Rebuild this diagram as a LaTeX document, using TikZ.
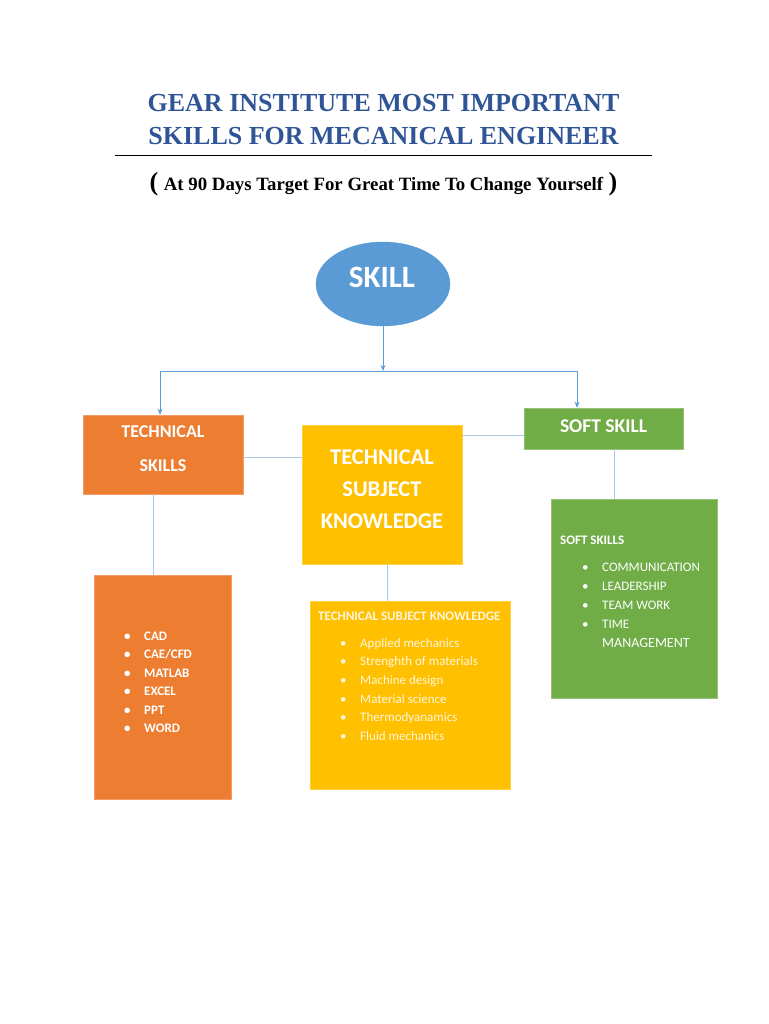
\documentclass[tikz,border=0pt]{standalone}
\usepackage{fontspec}
\setmainfont{Liberation Serif}
\newfontfamily\calib{Carlito}
\usetikzlibrary{shapes.geometric,arrows.meta}
\definecolor{titleblue}{HTML}{2F5597}
\definecolor{skblue}{HTML}{5B9BD5}
\definecolor{lightcon}{HTML}{A9CBEA}
\definecolor{orng}{HTML}{ED7D31}
\definecolor{yllw}{HTML}{FFC000}
\definecolor{grn}{HTML}{70AD47}
\definecolor{cream}{HTML}{FFF6DC}
\tikzset{
  box/.style={rectangle,inner sep=0pt,draw=#1!75!white,line width=0.6pt,fill=#1},
  arr/.style={draw=skblue,line width=0.9pt,-{Stealth[length=6pt,width=5pt]}},
  ln/.style={draw=skblue,line width=0.9pt},
  lcon/.style={draw=lightcon,line width=0.9pt},
  boxtxt/.style={text=white,font=\calib\bfseries,inner sep=0pt,align=center},
  item/.style={text=white,font=\calib\fontsize{13}{15}\selectfont,anchor=west,inner sep=0pt},
  bitem/.style={item,font=\calib\bfseries\fontsize{13}{15}\selectfont},
}
\newcommand{\bul}[1]{\makebox[20pt][l]{\textbullet}#1}
\begin{document}
\begin{tikzpicture}[x=1pt,y=-1pt]
\useasboundingbox (0,0) rectangle (768,1024);
% title
\node[text=titleblue,font=\bfseries\fontsize{26}{30}\selectfont,inner sep=0pt] (t1) at (383.5,103) {GEAR INSTITUTE MOST IMPORTANT};
\node[text=titleblue,font=\bfseries\fontsize{26}{30}\selectfont,inner sep=0pt] (t2) at (383.5,136) {SKILLS FOR MECANICAL ENGINEER};
\coordinate (rl) at (115,155.5);
\coordinate (rr) at (652,155.5);
\draw[line width=0.8pt] (rl) -- (rr);
\node[font=\bfseries\fontsize{18.8}{22}\selectfont,inner sep=0pt] (sub) at (383.5,184) {{\fontsize{26}{28}\selectfont(}\hspace{0.3em}At 90 Days Target For Great Time To Change Yourself\hspace{0.3em}{\fontsize{26}{28}\selectfont)}};
% skill ellipse
\node[ellipse,fill=skblue,draw=skblue,minimum width=134pt,minimum height=84pt,inner sep=0pt] (skill) at (383,284) {};
\node[text=white,font=\calib\bfseries\fontsize{31}{33}\selectfont,inner sep=0pt] (skilltxt) at (382,277) {SKILL};
% boxes
\node[box=orng,minimum width=160pt,minimum height=79pt] (ts) at (163,454.5) {};
\node[boxtxt,font=\calib\bfseries\fontsize{18}{20}\selectfont] (ts1) at (163,432) {TECHNICAL};
\node[boxtxt,font=\calib\bfseries\fontsize{18}{20}\selectfont] (ts2) at (163,466) {SKILLS};
\node[box=yllw,minimum width=160pt,minimum height=139pt] (tsk) at (382,494.5) {};
\node[boxtxt,font=\calib\bfseries\fontsize{22.5}{24}\selectfont] (tsk1) at (382,457) {TECHNICAL};
\node[boxtxt,font=\calib\bfseries\fontsize{22.5}{24}\selectfont] (tsk2) at (382,489) {SUBJECT};
\node[boxtxt,font=\calib\bfseries\fontsize{22.5}{24}\selectfont] (tsk3) at (382,521) {KNOWLEDGE};
\node[box=grn,minimum width=159pt,minimum height=41pt] (ss) at (603.5,428.5) {};
\node[boxtxt,font=\calib\bfseries\fontsize{19.5}{21}\selectfont] (ss1) at (603.5,426) {SOFT SKILL};
% list boxes
\node[box=orng,minimum width=137pt,minimum height=224pt] (tsl) at (162.5,687) {};
\node[box=yllw,minimum width=200pt,minimum height=188pt] (tskl) at (410,695) {};
\node[box=grn,minimum width=166pt,minimum height=199pt] (ssl) at (634,598.5) {};
% orange list items
\node[bitem] (o1) at (124,636) {\bul{CAD}};
\node[bitem] (o2) at (124,654.5) {\bul{CAE/CFD}};
\node[bitem] (o3) at (124,673) {\bul{MATLAB}};
\node[bitem] (o4) at (124,691.5) {\bul{EXCEL}};
\node[bitem] (o5) at (124,710) {\bul{PPT}};
\node[bitem] (o6) at (124,728.5) {\bul{WORD}};
% yellow list items
\node[bitem,text=cream] (yh) at (318,616) {TECHNICAL SUBJECT KNOWLEDGE};
\node[item,text=cream] (y1) at (340,644) {\bul{Applied mechanics}};
\node[item,text=cream] (y2) at (340,662.5) {\bul{Strenghth of materials}};
\node[item,text=cream] (y3) at (340,681) {\bul{Machine design}};
\node[item,text=cream] (y4) at (340,699.5) {\bul{Material science}};
\node[item,text=cream] (y5) at (340,718) {\bul{Thermodyanamics}};
\node[item,text=cream] (y6) at (340,736.5) {\bul{Fluid mechanics}};
% green list items
\node[bitem] (gh) at (560,540) {SOFT SKILLS};
\node[item] (g1) at (582,567.5) {\bul{COMMUNICATION}};
\node[item] (g2) at (582,586) {\bul{LEADERSHIP}};
\node[item] (g3) at (582,605) {\bul{TEAM WORK}};
\node[item] (g4) at (582,624) {\bul{TIME}};
\node[item,font=\calib\fontsize{14}{16}\selectfont] (g5) at (602,642.5) {MANAGEMENT};
% connectors
\coordinate (mid) at (383,371);
\coordinate (lft) at (160,371);
\coordinate (rgt) at (577,371);
\draw[arr] (skill.south) -- (mid);
\draw[ln] (lft) -- (rgt);
\draw[arr] (lft) -- (lft |- ts.north);
\draw[arr] (rgt) -- (rgt |- ss.north);
\draw[lcon] (ts.east |- 0,457) -- (tsk.west |- 0,457);
\draw[lcon] (tsk.east |- 0,435) -- (ss.west |- 0,435);
\draw[lcon] (153,0 |- ts.south) -- (153,0 |- tsl.north);
\draw[lcon] (387,0 |- tsk.south) -- (387,0 |- tskl.north);
\draw[lcon] (614,0 |- ss.south) -- (614,0 |- ssl.north);
\end{tikzpicture}
\end{document}
